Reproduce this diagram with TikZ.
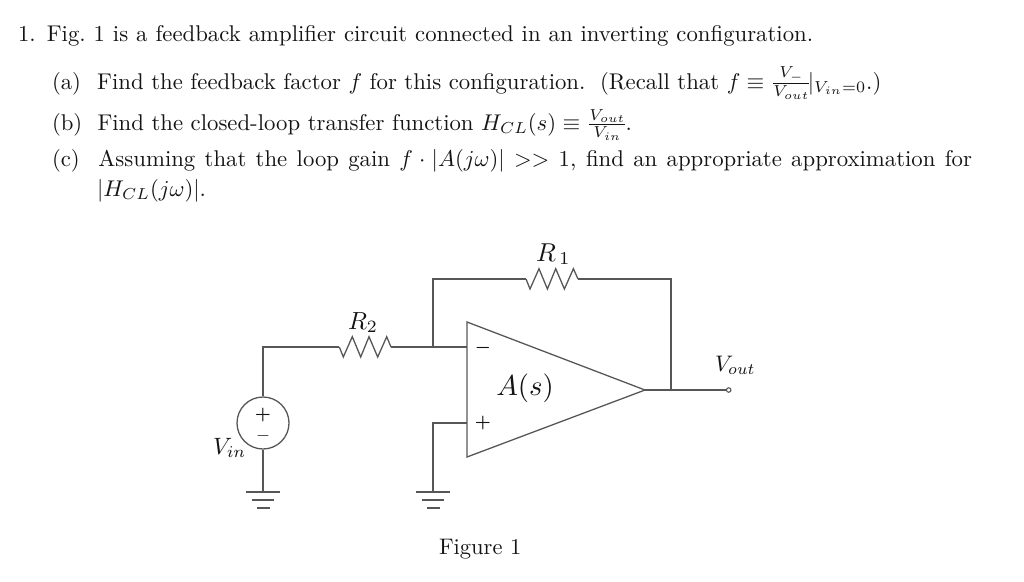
\documentclass[tikz,border=0pt]{standalone}
\usepackage{amsmath}
\tikzset{
  wire/.style={draw=black!66,line width=1.3pt,line join=miter},
  txt/.style={anchor=base west,inner sep=0pt,outer sep=0pt,text=black!92,scale=2.275,transform shape},
  lab/.style={inner sep=0pt,outer sep=0pt,text=black!92,scale=2.25,transform shape},
  src/.style={circle,draw=black!66,line width=1.3pt,minimum size=52pt,inner sep=0pt},
  term/.style={circle,draw=black!66,line width=1.1pt,fill=white,minimum size=4.5pt,inner sep=0pt}
}
\newcommand{\gndsym}[1]{%
  \draw[wire] ([xshift=-17pt]#1) -- ([xshift=17pt]#1);
  \draw[wire] ([xshift=-11pt,yshift=-8pt]#1) -- ([xshift=11pt,yshift=-8pt]#1);
  \draw[wire] ([xshift=-6.5pt,yshift=-16pt]#1) -- ([xshift=6.5pt,yshift=-16pt]#1);
}
\newcommand{\reszig}[2]{%
  \draw[wire] (#1) -- ++(4pt,-10pt) -- ++(9pt,20.3pt) -- ++(8.4pt,-20.3pt) -- ++(8.3pt,20.3pt) -- ++(8.7pt,-20.3pt) -- ++(9pt,20.3pt) -- (#2);
}
\begin{document}
\begin{tikzpicture}[x=1pt,y=-1pt]
\useasboundingbox (0,0) rectangle (1024,581);
\node[txt] (t1) at (18,41) {\hbox to 349.5pt{1.\hspace{4.9pt}Fig.\ 1 is a feedback amplifier circuit connected in an inverting configuration.}};
\node[txt] (ta) at (52,89) {(a)\hspace{7.1pt}Find the feedback factor $f$ for this configuration.\hspace{2pt} (Recall that $f\equiv\frac{V_-}{V_{out}}\hspace{-1.9pt}|_{V_{in}=0}.$)};
\node[txt] (tb) at (52,130) {(b)\ \ Find the closed-loop transfer function $H_{CL}(s)\equiv\frac{V_{out}}{V_{in}}\hspace{-1pt}.$};
\node[txt] (tc) at (52,166) {\hbox to 404.4pt{(c)\ \ Assuming that the loop gain $f\cdot|A(j\omega)|>>1$, find an appropriate approximation for}};
\node[txt] (td) at (97,196) {$|H_{CL}(j\omega)|$.};

\coordinate (ltop) at (467,322);
\coordinate (lbot) at (467,457);
\coordinate (tip) at (645,390);
\coordinate (inm) at (467,347);
\coordinate (inp) at (467,423);
\coordinate (jn) at (433,347);
\coordinate (fbl) at (433,279);
\coordinate (fbr) at (671,279);
\coordinate (jo) at (671,390);
\coordinate (r1a) at (526,279);
\coordinate (r1b) at (578,279);
\coordinate (r2a) at (339.3,347);
\coordinate (r2b) at (391,347);
\coordinate (vc) at (263,347);
\coordinate (g1) at (263,492);
\coordinate (g2) at (433,492);
\coordinate (pc) at (433,423);
\node[src] (vs) at (263,423) {};
\node[term] (out) at (728.7,390) {};

\draw[wire] (ltop) -- (tip) -- (lbot) -- cycle;
\draw[wire] (vs.north) -- (vc) -- (r2a);
\reszig{r2a}{r2b}
\draw[wire] (r2b) -- (inm);
\draw[wire] (jn) -- (fbl) -- (r1a);
\reszig{r1a}{r1b}
\draw[wire] (r1b) -- (fbr) -- (jo);
\draw[wire] (tip) -- (out);
\draw[wire] (vs.south) -- (g1);
\gndsym{g1}
\draw[wire] (inp) -- (pc) -- (g2);
\gndsym{g2}

\node[lab,scale=.8] (lsp) at (263,415) {$\boldsymbol{+}$};
\node[lab,scale=.8] (lsm) at (263,436) {$-$};
\node[lab,scale=.8] (lm) at (483,348) {$\boldsymbol{-}$};
\node[lab,scale=.8] (lp) at (483,423) {$\boldsymbol{+}$};
\node[lab,scale=1.28] (la) at (525,388) {$A(s)$};
\node[lab,scale=1.15,anchor=base west] (lr1) at (536,261) {$R_{\,1}$};
\node[lab,scale=1.1,anchor=base west] (lr2) at (348,329) {$R_2$};
\node[lab,scale=1.05,anchor=base west] (lvi) at (213,454) {$V_{in}$};
\node[lab,anchor=base west] (lvo) at (715,371) {$V_{out}$};
\node[lab,anchor=base west] (fig) at (439,554) {Figure 1};
\end{tikzpicture}
\end{document}
